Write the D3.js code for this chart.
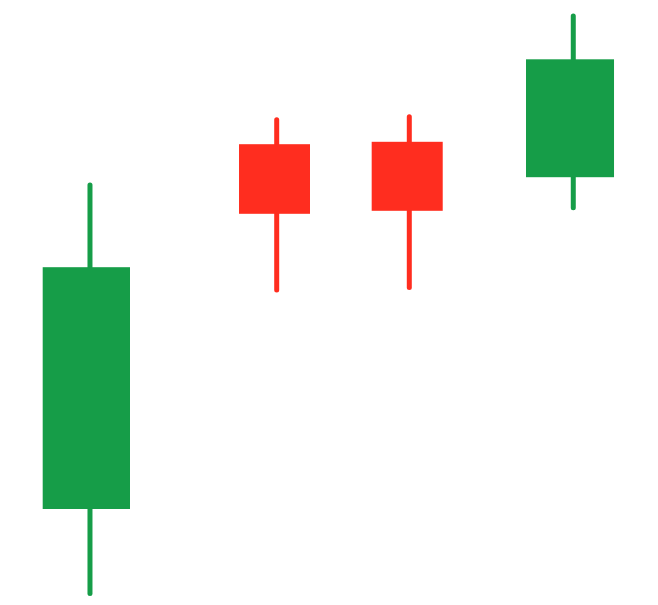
<!DOCTYPE html>
<html>
<head>
<meta charset="utf-8">
<script src="https://cdn.jsdelivr.net/npm/d3@7"></script>
<style>
  html, body { margin: 0; padding: 0; background: #ffffff; }
  svg { display: block; }
</style>
</head>
<body>
<svg id="chart" width="658" height="605"></svg>
<script>
// ---- data (price units / time units) ----
const candles = ["C1", "C2", "C3", "C4"];
const openValues  = [16.0, 76.8, 77.2, 71.3];
const closeValues = [56.3, 65.2, 65.7, 90.95];
const highValues  = [70.4, 81.3, 81.8, 98.6];
const lowValues   = [1.5, 52.1, 52.5, 65.8];
// time span of each candle body and time of its wick
const bodyStart = [0.45, 33.17, 55.28, 81.0];
const bodyEnd   = [15.0, 45.0, 67.12, 95.67];
const wickTime  = [8.33, 39.45, 61.55, 88.88];

const upColor = "#169d48";
const downColor = "#ff2d1f";

const data = candles.map((c, i) => ({
  name: c,
  open: openValues[i], close: closeValues[i],
  high: highValues[i], low: lowValues[i],
  t0: bodyStart[i], t1: bodyEnd[i], tw: wickTime[i]
}));

const svg = d3.select("#chart");
const x = d3.scaleLinear().domain([0, 100]).range([40, 640]);
const y = d3.scaleLinear().domain([0, 100]).range([605, 5]);

const wickW = 5;
const g = svg.append("g");

const color = d => d.close >= d.open ? upColor : downColor;

g.selectAll("line.wick")
  .data(data)
  .join("line")
  .attr("class", "wick")
  .attr("x1", d => x(d.tw))
  .attr("x2", d => x(d.tw))
  .attr("y1", d => y(d.high) + wickW / 2)
  .attr("y2", d => y(d.low) - wickW / 2)
  .attr("stroke", color)
  .attr("stroke-width", wickW)
  .attr("stroke-linecap", "round");

g.selectAll("rect.body")
  .data(data)
  .join("rect")
  .attr("class", "body")
  .attr("x", d => x(d.t0))
  .attr("width", d => x(d.t1) - x(d.t0))
  .attr("y", d => y(Math.max(d.open, d.close)))
  .attr("height", d => Math.abs(y(d.open) - y(d.close)))
  .attr("fill", color);
</script>
</body>
</html>
